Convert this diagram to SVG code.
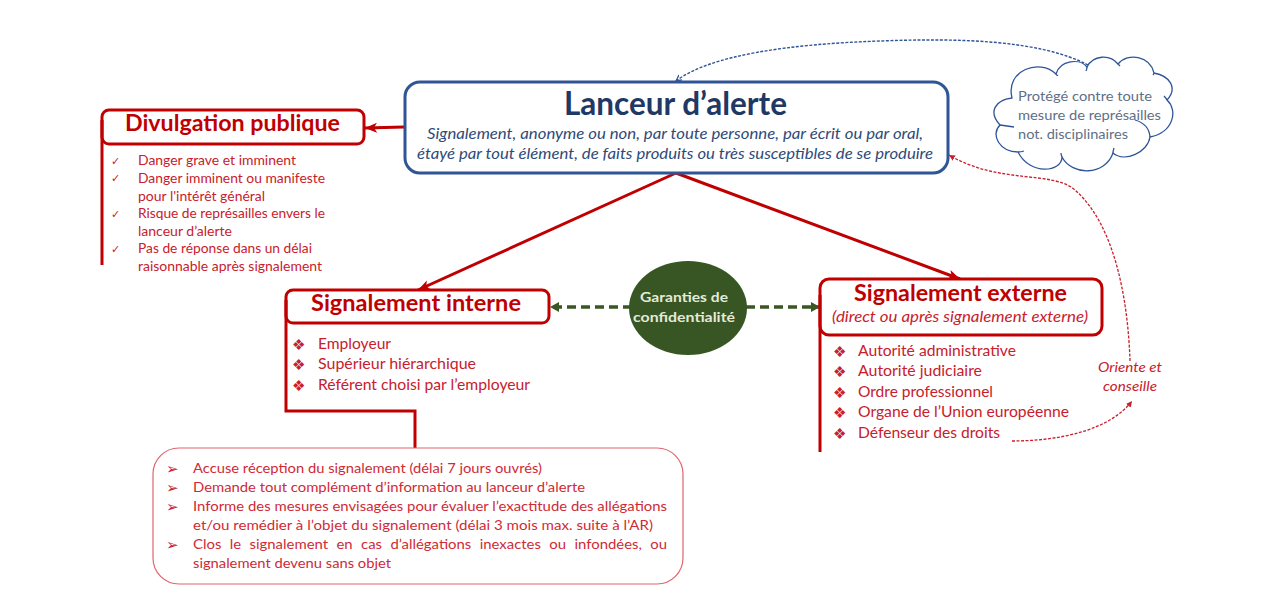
<svg xmlns="http://www.w3.org/2000/svg" width="1288" height="607" viewBox="0 0 1288 607">
<style>
text{font-family:Lato,"Open Sans","Liberation Sans",sans-serif}
.sym{font-family:"DejaVu Sans",sans-serif;fill:#c8202c}
.box{fill:#fff;stroke:#c00000;stroke-width:3}
.rail{fill:none;stroke:#c00000;stroke-width:3}
.head{font-weight:700;fill:#c00000;font-size:22px}
.it{fill:#c8202c;font-size:15px}
.sm{fill:#c8202c;font-size:13.5px}
.bt{fill:#cf2a36;font-size:13px}
.sub{font-style:italic;fill:#2f4a78;font-size:15.5px}
.cl{fill:#5f6f86;font-size:13.5px}
.lnk{fill:none;stroke:#c00000;stroke-width:3}
.dash{fill:none;stroke:#385723;stroke-width:3.5;stroke-dasharray:9 5}
.rd{fill:none;stroke:#c8202c;stroke-width:1.3;stroke-dasharray:3 1.5}
</style>
<defs>
<marker id="ar" markerUnits="userSpaceOnUse" markerWidth="14" markerHeight="12" refX="12" refY="5" orient="auto"><path d="M0 0L12 5L0 10L3 5Z" fill="#c00000"/></marker>
<marker id="ag" markerUnits="userSpaceOnUse" markerWidth="12" markerHeight="12" refX="9" refY="5" orient="auto"><path d="M0 0L9 5L0 10Z" fill="#385723"/></marker>
<marker id="ab" markerUnits="userSpaceOnUse" markerWidth="8" markerHeight="8" refX="6" refY="3" orient="auto"><path d="M0 0L6 3L0 6" fill="none" stroke="#2f5597" stroke-width="1.3"/></marker>
<marker id="arr" markerUnits="userSpaceOnUse" markerWidth="8" markerHeight="8" refX="6" refY="3" orient="auto"><path d="M0 0L6 3L0 6Z" fill="#c8202c"/></marker>
</defs>
<rect width="1288" height="607" fill="#fff"/>
<g id="connectors">
<path class="lnk" d="M404 127L365 128" marker-end="url(#ar)"/>
<path class="lnk" d="M676 173L418 290" marker-end="url(#ar)"/>
<path class="lnk" d="M676 173L960 279" marker-end="url(#ar)"/>
<path class="dash" d="M632 307H550" marker-end="url(#ag)"/>
<path class="dash" d="M746 307H820" marker-end="url(#ag)"/>
<path d="M1088 65C1040 40 960 38 880 41C790 44 710 55 676 81" fill="none" stroke="#2f5597" stroke-width="1.4" stroke-dasharray="3 1.5" marker-end="url(#ab)"/>
<path class="rd" d="M1130 361C1128 300 1115 225 1075 190C1052 170 1000 185 949 155" marker-end="url(#arr)"/>
<path class="rd" d="M1012 441C1060 441 1110 430 1132 401" marker-end="url(#arr)"/>
</g>
<g id="lanceur">
<rect x="405" y="82" width="543" height="91" rx="15" fill="#fff" stroke="#2f5597" stroke-width="3"/>
<text x="564" y="115" font-size="32" font-weight="700" fill="#1f3864" textLength="223" lengthAdjust="spacingAndGlyphs">Lanceur d’alerte</text>
<text class="sub" x="427" y="139" textLength="496" lengthAdjust="spacingAndGlyphs">Signalement, anonyme ou non, par toute personne, par écrit ou par oral,</text>
<text class="sub" x="417" y="159" textLength="516" lengthAdjust="spacingAndGlyphs">étayé par tout élément, de faits produits ou très susceptibles de se produire</text>
</g>
<g id="divulgation">
<rect class="box" x="102" y="110" width="262" height="34" rx="7"/>
<path class="rail" d="M102 120V265"/>
<text class="head" x="125" y="131" textLength="215" lengthAdjust="spacingAndGlyphs">Divulgation publique</text>
<text class="sym" x="111" y="165" font-size="11">✓</text><text class="sym" x="111" y="182" font-size="11">✓</text><text class="sym" x="111" y="218" font-size="11">✓</text><text class="sym" x="111" y="253" font-size="11">✓</text>
<text class="sm" x="138" y="165" textLength="158" lengthAdjust="spacingAndGlyphs">Danger grave et imminent</text>
<text class="sm" x="138" y="183" textLength="187" lengthAdjust="spacingAndGlyphs">Danger imminent ou manifeste</text>
<text class="sm" x="138" y="201" textLength="127" lengthAdjust="spacingAndGlyphs">pour l'intérêt général</text>
<text class="sm" x="138" y="218" textLength="187" lengthAdjust="spacingAndGlyphs">Risque de représailles envers le</text>
<text class="sm" x="138" y="236" textLength="94" lengthAdjust="spacingAndGlyphs">lanceur d’alerte</text>
<text class="sm" x="138" y="253" textLength="174" lengthAdjust="spacingAndGlyphs">Pas de réponse dans un délai</text>
<text class="sm" x="138" y="271" textLength="184" lengthAdjust="spacingAndGlyphs">raisonnable après signalement</text>
</g>
<g id="interne">
<rect class="box" x="286" y="290" width="263" height="33" rx="7"/>
<path class="rail" d="M286 300V411H415V448"/>
<text class="head" x="311" y="311" textLength="210" lengthAdjust="spacingAndGlyphs">Signalement interne</text>
<text class="sym" x="292" y="350" font-size="15">❖</text><text class="sym" x="292" y="370" font-size="15">❖</text><text class="sym" x="292" y="391" font-size="15">❖</text>
<text class="it" x="318" y="349" textLength="73" lengthAdjust="spacingAndGlyphs">Employeur</text>
<text class="it" x="318" y="369" textLength="158" lengthAdjust="spacingAndGlyphs">Supérieur hiérarchique</text>
<text class="it" x="318" y="390" textLength="212" lengthAdjust="spacingAndGlyphs">Référent choisi par l’employeur</text>
</g>
<g id="garanties">
<ellipse cx="688" cy="308" rx="59" ry="47" fill="#375623"/>
<text x="640" y="302" font-size="14" font-weight="700" fill="#e4ead9" textLength="88" lengthAdjust="spacingAndGlyphs">Garanties de</text>
<text x="633" y="322" font-size="14" font-weight="700" fill="#e4ead9" textLength="102" lengthAdjust="spacingAndGlyphs">confidentialité</text>
</g>
<g id="externe">
<rect class="box" x="820" y="279" width="282" height="56" rx="9"/>
<path class="rail" d="M820 295V452"/>
<text class="head" x="854" y="301" textLength="213" lengthAdjust="spacingAndGlyphs">Signalement externe</text>
<text x="832" y="322" font-size="15" font-style="italic" fill="#c8202c" textLength="256" lengthAdjust="spacingAndGlyphs">(direct ou après signalement externe)</text>
<text class="sym" x="833" y="357" font-size="15">❖</text><text class="sym" x="833" y="377" font-size="15">❖</text><text class="sym" x="833" y="398" font-size="15">❖</text><text class="sym" x="833" y="418" font-size="15">❖</text><text class="sym" x="833" y="439" font-size="15">❖</text>
<text class="it" x="858" y="356" textLength="158" lengthAdjust="spacingAndGlyphs">Autorité administrative</text>
<text class="it" x="858" y="376" textLength="124" lengthAdjust="spacingAndGlyphs">Autorité judiciaire</text>
<text class="it" x="858" y="397" textLength="135" lengthAdjust="spacingAndGlyphs">Ordre professionnel</text>
<text class="it" x="858" y="417" textLength="211" lengthAdjust="spacingAndGlyphs">Organe de l’Union européenne</text>
<text class="it" x="858" y="438" textLength="142" lengthAdjust="spacingAndGlyphs">Défenseur des droits</text>
</g>
<g id="oriente">
<text x="1098" y="372" font-size="13" font-style="italic" fill="#c8202c" textLength="64" lengthAdjust="spacingAndGlyphs">Oriente et</text>
<text x="1103" y="391" font-size="13" font-style="italic" fill="#c8202c" textLength="54" lengthAdjust="spacingAndGlyphs">conseille</text>
</g>
<g id="protege">
<path d="M1012 98C1005 70 1040 58 1056 74C1060 60 1080 58 1087 67C1093 55 1110 54 1118 64C1128 52 1150 56 1154 73C1170 76 1178 88 1167 100C1178 110 1174 132 1150 137C1148 152 1125 163 1113 153C1105 176 1072 176 1062 157C1062 172 1030 176 1018 152C1000 152 990 135 1000 125C988 112 995 100 1012 98Z" fill="#fff" stroke="#2f5597" stroke-width="1.3" stroke-linejoin="round"/>
<path d="M1000 125Q1007 126 1014 127M1135 120Q1149 124 1150 137M1167 100Q1166 98 1164 96M1018 152Q1021 152 1024 151M1062 157Q1061 155 1061 153M1113 153Q1113 151 1114 148M1056 74Q1057 76 1058 75M1087 67Q1087 69 1086 71M1118 64Q1119 65 1120 66M1154 73Q1154 74 1153 75" fill="none" stroke="#2f5597" stroke-width="1.3"/>
<text class="cl" x="1018" y="101" textLength="134" lengthAdjust="spacingAndGlyphs">Protégé contre toute</text>
<text class="cl" x="1018" y="120" textLength="143" lengthAdjust="spacingAndGlyphs">mesure de représailles</text>
<text class="cl" x="1018" y="139" textLength="110" lengthAdjust="spacingAndGlyphs">not. disciplinaires</text>
</g>
<g id="actions">
<rect x="153" y="448" width="530" height="136" rx="26" fill="#fff" stroke="#e0646c" stroke-width="1.2"/>
<text class="sym" x="166" y="474" font-size="15">➢</text><text class="sym" x="166" y="493" font-size="15">➢</text><text class="sym" x="166" y="512" font-size="15">➢</text><text class="sym" x="166" y="550" font-size="15">➢</text>
<text class="bt" x="193" y="473" textLength="349" lengthAdjust="spacingAndGlyphs">Accuse réception du signalement (délai 7 jours ouvrés)</text>
<text class="bt" x="193" y="492" textLength="392" lengthAdjust="spacingAndGlyphs">Demande tout complément d’information au lanceur d’alerte</text>
<text class="bt" x="193" y="511" textLength="474" lengthAdjust="spacingAndGlyphs">Informe des mesures envisagées pour évaluer l’exactitude des allégations</text>
<text class="bt" x="193" y="530" textLength="460" lengthAdjust="spacingAndGlyphs">et/ou remédier à l’objet du signalement (délai 3 mois max. suite à l’AR)</text>
<text class="bt" x="193" y="549" word-spacing="4" textLength="474" lengthAdjust="spacingAndGlyphs">Clos le signalement en cas d’allégations inexactes ou infondées, ou</text>
<text class="bt" x="193" y="568" textLength="198" lengthAdjust="spacingAndGlyphs">signalement devenu sans objet</text>
</g>
</svg>
